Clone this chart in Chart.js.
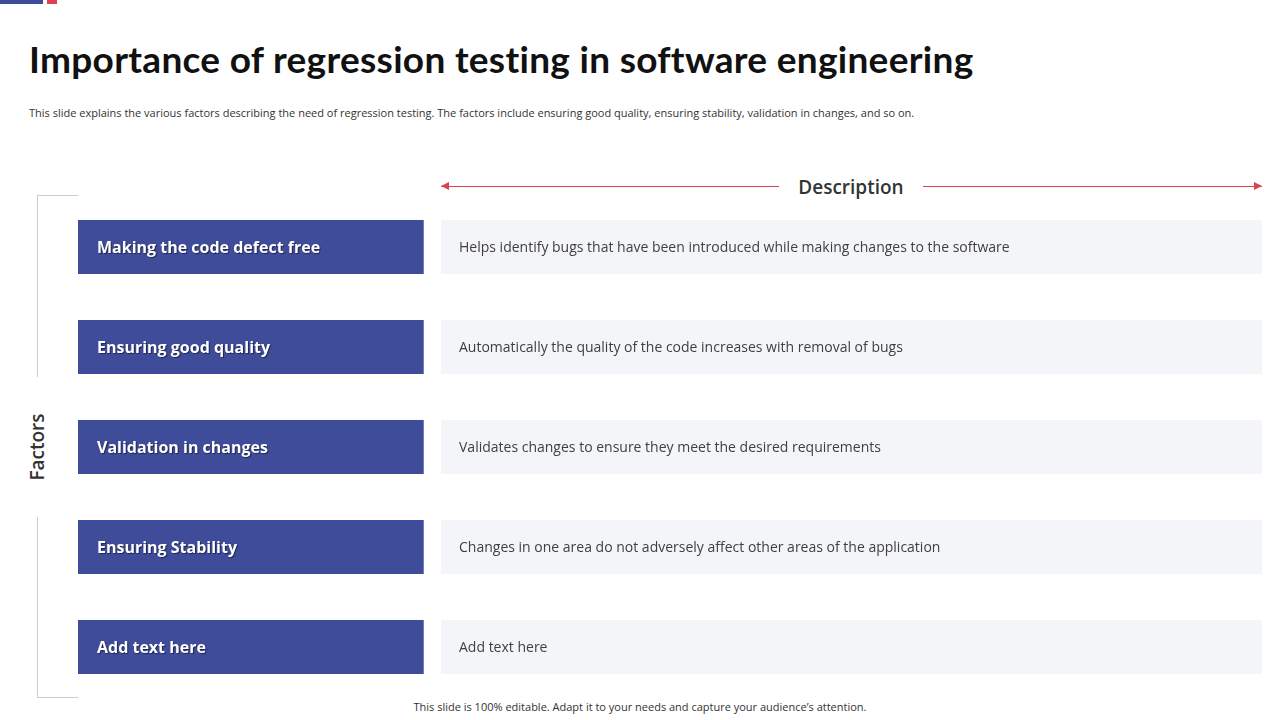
<!DOCTYPE html>
<html><head><meta charset="utf-8">
<script src="https://cdn.jsdelivr.net/npm/chart.js@4"></script>
<style>
body{margin:0;width:1280px;height:720px;position:relative;background:#fff;font-family:"Open Sans",sans-serif;overflow:hidden}
.abs{position:absolute}
</style></head><body>
<div class="abs" style="left:0;top:0;width:43px;height:4px;background:#3f4c9a"></div>
<div class="abs" style="left:47px;top:0;width:10px;height:4px;background:#e0414f"></div>
<div class="abs" style="left:29px;top:36px;font-size:37px;font-weight:bold;color:#111;font-family:Lato,sans-serif;letter-spacing:0.3px">Importance of regression testing in software engineering</div>
<div class="abs" style="left:29px;top:105px;font-size:11px;color:#333">This slide explains the various factors describing the need of regression testing. The factors include ensuring good quality, ensuring stability, validation in changes, and so on.</div>
<div class="abs" style="left:441px;top:186px;width:338px;height:1px;background:#d9434e"></div>
<div class="abs" style="left:923px;top:186px;width:339px;height:1px;background:#d9434e"></div>
<div class="abs" style="left:441px;top:182px;width:0;height:0;border-top:4px solid transparent;border-bottom:4px solid transparent;border-right:8px solid #d9434e"></div>
<div class="abs" style="left:1254px;top:182px;width:0;height:0;border-top:4px solid transparent;border-bottom:4px solid transparent;border-left:8px solid #d9434e"></div>
<div class="abs" style="left:779px;top:174px;width:144px;text-align:center;font-size:19px;font-weight:600;color:#333">Description</div>
<div class="abs" style="left:37px;top:195px;width:41px;height:503px;border:1px solid #ccc;border-right:none;box-sizing:border-box"></div>
<div class="abs" style="left:30px;top:377px;width:12px;height:140px;background:#fff"></div>
<div class="abs" style="left:37px;top:447px;transform:translate(-50%,-50%) rotate(-90deg);font-size:19px;font-weight:600;color:#333;white-space:nowrap">Factors</div>
<div class="abs" style="left:78px;top:197px;width:1184px;height:500px"><canvas id="c"></canvas></div>
<div class="abs" style="left:0;top:699px;width:1280px;text-align:center;font-size:11px;color:#333">This slide is 100% editable. Adapt it to your needs and capture your audience’s attention.</div>
<script>
const factors=["Making the code defect free","Ensuring good quality","Validation in changes","Ensuring Stability","Add text here"];
const descriptions=["Helps identify bugs that have been introduced while making changes to the software","Automatically the quality of the code increases with removal of bugs","Validates changes to ensure they meet the desired requirements","Changes in one area do not adversely affect other areas of the application","Add text here"];
const factorSpan=[0,29.2];
const descSpan=[30.66,100];
const textPlugin={id:'txt',afterDatasetsDraw(ch){const c=ch.ctx;
 ch.getDatasetMeta(0).data.forEach((b,i)=>{c.save();c.fillStyle='#fff';c.font='bold 16px "Open Sans"';c.textBaseline='middle';c.shadowColor='rgba(0,0,0,0.5)';c.shadowOffsetX=1;c.shadowOffsetY=1;c.shadowBlur=1;c.fillText(factors[i],b.base+19,b.y+1);c.restore();});
 ch.getDatasetMeta(1).data.forEach((b,i)=>{c.save();c.fillStyle='#404040';c.font='14px "Open Sans"';c.textBaseline='middle';c.fillText(descriptions[i],b.base+18,b.y+1);c.restore();});
}};
new Chart(document.getElementById('c'),{type:'bar',
 data:{labels:factors,datasets:[
  {data:factors.map(()=>factorSpan),backgroundColor:'#3f4c9a'},
  {data:factors.map(()=>descSpan),backgroundColor:'#f4f5f9'}]},
 options:{indexAxis:'y',responsive:true,maintainAspectRatio:false,animation:false,
  datasets:{bar:{grouped:false,categoryPercentage:1,barPercentage:0.54,borderWidth:0}},
  layout:{padding:0},
  scales:{x:{display:false,min:0,max:100},y:{display:false}},
  plugins:{legend:{display:false},tooltip:{enabled:false}}},
 plugins:[textPlugin]});
</script>
</body></html>
